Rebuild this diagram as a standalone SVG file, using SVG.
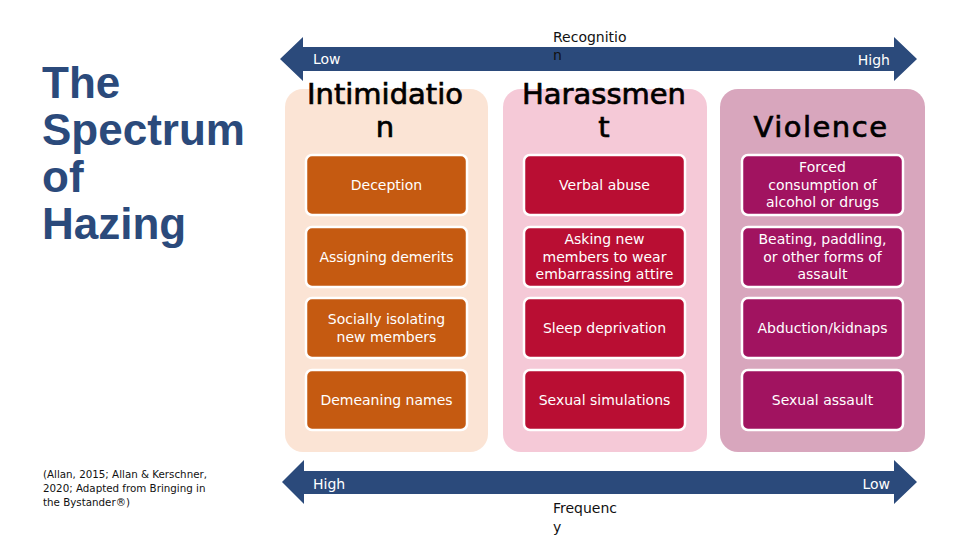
<svg xmlns="http://www.w3.org/2000/svg" width="960" height="540" viewBox="0 0 960 540">
<style>
.title{font-family:"Liberation Sans",Arial,sans-serif;font-weight:bold;font-size:44px;fill:#2b4a7b}
.cite{font-family:"DejaVu Sans",sans-serif;font-size:10.3px;fill:#111}
.axis{fill:#2b4a7b}
.axl{font-family:"DejaVu Sans",sans-serif;font-size:14px;fill:#fff}
.axt{font-family:"DejaVu Sans",sans-serif;font-size:14px;fill:#111}
.hdr{font-family:"DejaVu Sans",sans-serif;font-size:29px;fill:#000;stroke:#000;stroke-width:0.7;text-anchor:middle}
.bt{font-family:"DejaVu Sans",sans-serif;font-size:14px;fill:#fff;text-anchor:middle}
.b1{fill:#c55a11;stroke:#fff;stroke-width:2.5}
.b2{fill:#b90e33;stroke:#fff;stroke-width:2.5}
.b3{fill:#a11360;stroke:#fff;stroke-width:2.5}
</style>
<rect width="960" height="540" fill="#fff"/>
<g id="title">
<text class="title" x="42" y="98">The</text>
<text class="title" x="42" y="145">Spectrum</text>
<text class="title" x="42" y="192">of</text>
<text class="title" x="42" y="239">Hazing</text>
</g>
<g id="citation">
<text class="cite" x="43" y="478">(Allan, 2015; Allan &amp; Kerschner,</text>
<text class="cite" x="43" y="492">2020; Adapted from Bringing in</text>
<text class="cite" x="43" y="506">the Bystander®)</text>
</g>
<g id="col-intimidation">
<rect x="285" y="89" width="203" height="363" rx="18" fill="#fbe4d5"/>
<text class="hdr" x="385" y="104">Intimidatio</text>
<text class="hdr" x="385" y="137">n</text>
</g>
<g id="col-harassment">
<rect x="503" y="89" width="204" height="363" rx="18" fill="#f5c9d7"/>
<text class="hdr" x="604" y="104">Harassmen</text>
<text class="hdr" x="604" y="137">t</text>
</g>
<g id="col-violence">
<rect x="720" y="89" width="205" height="363" rx="18" fill="#d8a6bd"/>
<text class="hdr" x="821" y="137" letter-spacing="1.5">Violence</text>
</g>
<g id="n-deception"><rect class="b1" x="306" y="155" width="161" height="60" rx="6"/><text class="bt" x="386.5" y="190">Deception</text></g>
<g id="n-demerits"><rect class="b1" x="306" y="227" width="161" height="60" rx="6"/><text class="bt" x="386.5" y="262">Assigning demerits</text></g>
<g id="n-isolating"><rect class="b1" x="306" y="298" width="161" height="60" rx="6"/><text class="bt" x="386.5" y="324">Socially isolating</text><text class="bt" x="386.5" y="342">new members</text></g>
<g id="n-names"><rect class="b1" x="306" y="370" width="161" height="60" rx="6"/><text class="bt" x="386.5" y="405">Demeaning names</text></g>
<g id="n-verbal"><rect class="b2" x="524" y="155" width="161" height="60" rx="6"/><text class="bt" x="604.5" y="190">Verbal abuse</text></g>
<g id="n-attire"><rect class="b2" x="524" y="227" width="161" height="60" rx="6"/><text class="bt" x="604.5" y="244">Asking new</text><text class="bt" x="604.5" y="262">members to wear</text><text class="bt" x="604.5" y="279">embarrassing attire</text></g>
<g id="n-sleep"><rect class="b2" x="524" y="298" width="161" height="60" rx="6"/><text class="bt" x="604.5" y="333">Sleep deprivation</text></g>
<g id="n-simulations"><rect class="b2" x="524" y="370" width="161" height="60" rx="6"/><text class="bt" x="604.5" y="405">Sexual simulations</text></g>
<g id="n-forced"><rect class="b3" x="742" y="155" width="161" height="60" rx="6"/><text class="bt" x="822.5" y="172">Forced</text><text class="bt" x="822.5" y="190">consumption of</text><text class="bt" x="822.5" y="207">alcohol or drugs</text></g>
<g id="n-beating"><rect class="b3" x="742" y="227" width="161" height="60" rx="6"/><text class="bt" x="822.5" y="244">Beating, paddling,</text><text class="bt" x="822.5" y="262">or other forms of</text><text class="bt" x="822.5" y="279">assault</text></g>
<g id="n-abduction"><rect class="b3" x="742" y="298" width="161" height="60" rx="6"/><text class="bt" x="822.5" y="333">Abduction/kidnaps</text></g>
<g id="n-assault"><rect class="b3" x="742" y="370" width="161" height="60" rx="6"/><text class="bt" x="822.5" y="405">Sexual assault</text></g>
<g id="connectors">
<g id="axis-recognition">
<polygon class="axis" points="280,59 303,37 303,47 894,47 894,37 917,59 894,81 894,71 303,71 303,81"/>
<text class="axl" x="313" y="64">Low</text>
<text class="axl" x="890" y="65" text-anchor="end">High</text>
<text class="axt" x="553" y="42">Recognitio</text>
<text class="axt" x="553" y="60">n</text>
</g>
<g id="axis-frequency">
<polygon class="axis" points="282,482 304,460 304,471 894,471 894,460 917,482 894,504 894,494 304,494 304,504"/>
<text class="axl" x="313" y="489">High</text>
<text class="axl" x="890" y="489" text-anchor="end">Low</text>
<text class="axt" x="553" y="513">Frequenc</text>
<text class="axt" x="553" y="532">y</text>
</g>
</g>
</svg>
